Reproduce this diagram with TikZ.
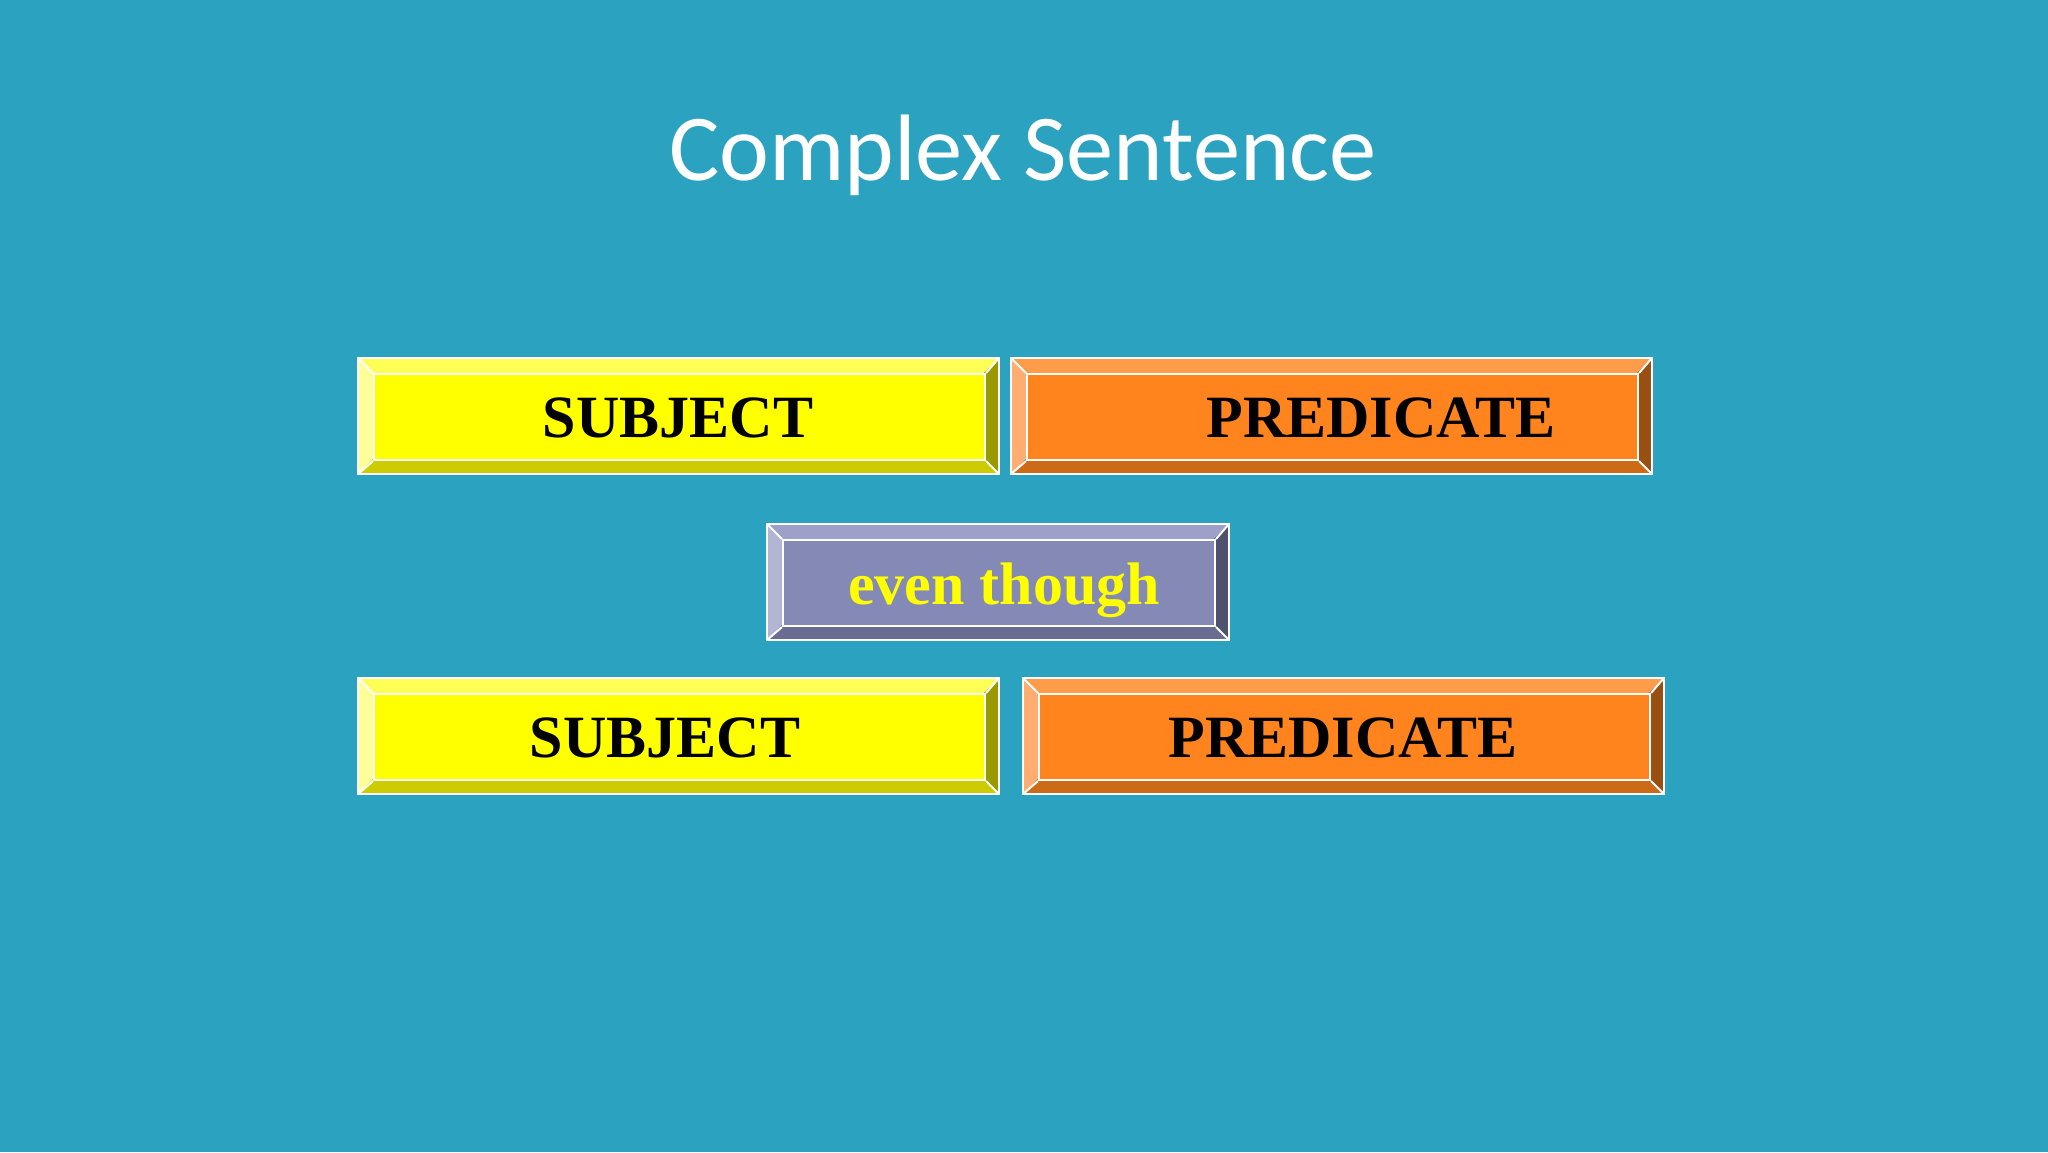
\documentclass[tikz,border=0pt]{standalone}
\usepackage{fontspec}
\setmainfont{Liberation Serif}
\newfontfamily\titlefont{Carlito}
\definecolor{bg}{HTML}{2BA3C0}
\definecolor{yF}{HTML}{FFFF00}
\definecolor{yT}{HTML}{FFFF55}
\definecolor{yL}{HTML}{FFFF99}
\definecolor{yB}{HTML}{CCCC00}
\definecolor{yR}{HTML}{999900}
\definecolor{oF}{HTML}{FF841E}
\definecolor{oT}{HTML}{FF9C4A}
\definecolor{oL}{HTML}{FFAD70}
\definecolor{oB}{HTML}{CC6A18}
\definecolor{oR}{HTML}{994F12}
\definecolor{pF}{HTML}{8489B6}
\definecolor{pT}{HTML}{9DA0C8}
\definecolor{pL}{HTML}{B3B5D5}
\definecolor{pB}{HTML}{696D92}
\definecolor{pR}{HTML}{4F526E}
\newcommand\bevbox[6]{%
  \fill[#6T] (#2,#3) -- (#4,#3) -- ({#4-15},{#3+15}) -- ({#2+15},{#3+15}) -- cycle;
  \fill[#6L] (#2,#3) -- ({#2+15},{#3+15}) -- ({#2+15},{#5-15}) -- (#2,#5) -- cycle;
  \fill[#6B] (#2,#5) -- ({#2+15},{#5-15}) -- ({#4-15},{#5-15}) -- (#4,#5) -- cycle;
  \fill[#6R] (#4,#3) -- (#4,#5) -- ({#4-15},{#5-15}) -- ({#4-15},{#3+15}) -- cycle;
  \node[edge, fill=#6F, inner sep=0, anchor=north west,
        minimum width={(#4-#2-30)*0.5pt}, minimum height={(#5-#3-30)*0.5pt}]
        (#1) at ({#2+15},{#3+15}) {};
  \draw[edge] (#2,#3) rectangle (#4,#5);
  \draw[edge] (#2,#3) -- (#1.north west) (#4,#3) -- (#1.north east)
              (#2,#5) -- (#1.south west) (#4,#5) -- (#1.south east);
}
\begin{document}
\begin{tikzpicture}[x=0.5pt,y=-0.5pt,
  edge/.style={draw=white, line width=1pt},
  lbl/.style={anchor=base, inner sep=0, font=\fontsize{30}{36}\selectfont\bfseries}]
\fill[bg] (0,0) rectangle (2048,1152);
\useasboundingbox (0,0) rectangle (2048,1152);
\node[anchor=base, inner sep=0, text=white, font=\titlefont\fontsize{47.2}{56}\selectfont]
  (title) at (1023,180) {Complex Sentence};
\bevbox{s1}{358}{358}{999}{474}{y}
\bevbox{p1}{1011}{358}{1652}{474}{o}
\bevbox{et}{767}{524}{1229}{640}{p}
\bevbox{s2}{358}{678}{999}{794}{y}
\bevbox{p2}{1023}{678}{1664}{794}{o}
\node[lbl] (ts1) at (678,437) {SUBJECT};
\node[lbl] (tp1) at (1381,437) {PREDICATE};
\node[lbl, text=yF] (tet) at (1004,604) {even though};
\node[lbl] (ts2) at (665,757) {SUBJECT};
\node[lbl] (tp2) at (1343,757) {PREDICATE};
\end{tikzpicture}
\end{document}
